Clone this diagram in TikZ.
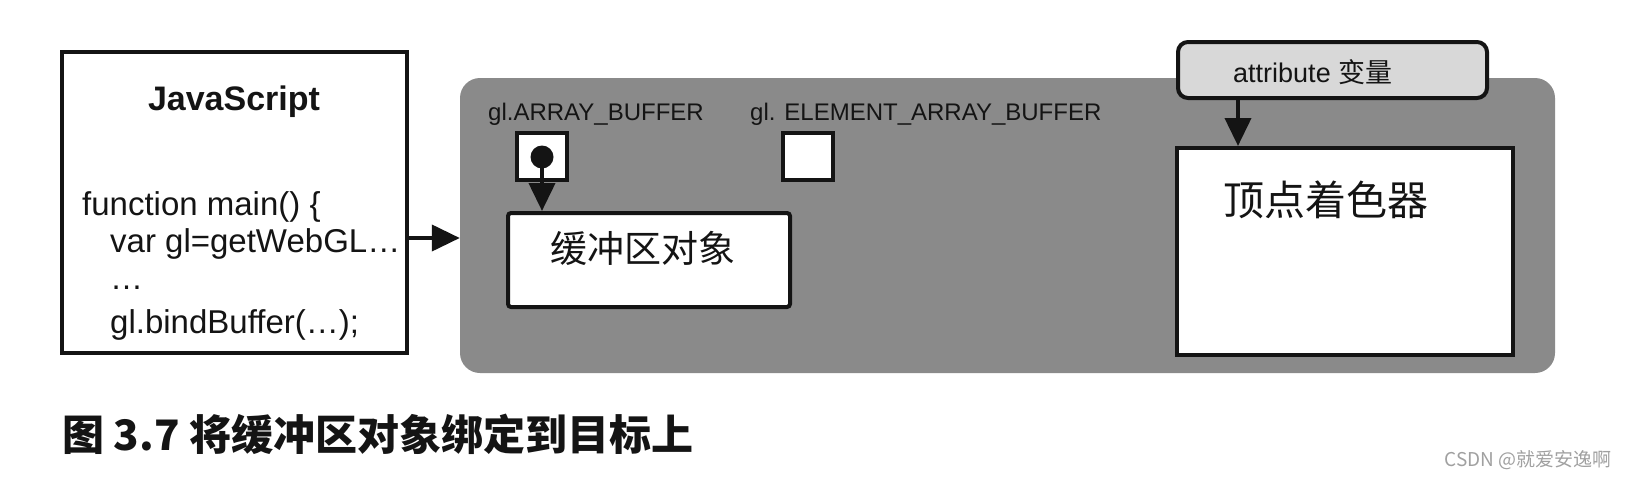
\documentclass[tikz,border=0pt]{standalone}
\usepackage{fontspec}
\setmainfont{Liberation Sans}
\newfontfamily\cjk{Noto Sans CJK SC}
\usetikzlibrary{arrows.meta,calc}
\definecolor{panelgray}{RGB}{138,138,138}
\definecolor{attrgray}{RGB}{216,216,216}
\definecolor{ink}{RGB}{20,20,20}
\definecolor{wmgray}{RGB}{160,160,160}
\begin{document}
\begin{tikzpicture}[x=1pt,y=-1pt,
  box/.style={draw=ink,line width=4pt,fill=white,inner sep=0pt},
  arr/.style={draw=ink,line width=4pt,-{Triangle[length=28pt,width=26pt]}},
  txt/.style={inner sep=0pt,text=ink},
  code/.style={txt,anchor=base west,font=\fontsize{33}{39}\selectfont},
  buflabel/.style={txt,anchor=base west,font=\fontsize{24}{28}\selectfont}]
\useasboundingbox (0,0) rectangle (1628,479);
% panel
\node[fill=panelgray,rounded corners=20pt,minimum width=1095pt,minimum height=295pt,inner sep=0pt] (gray) at (1007.5,225.5) {};
% JavaScript box
\node[box,minimum width=345pt,minimum height=301pt] (js) at (234.5,202.5) {};
\node[txt,anchor=base,font=\fontsize{34}{40}\selectfont\bfseries] (jstitle) at (234,110) {JavaScript};
\node[code] (c1) at (82,215) {function main() \{};
\node[code] (c2) at (110,252) {var gl=getWebGL…};
\node[code] (c3) at (110,289) {…};
\node[code] (c4) at (110,333) {gl.bindBuffer(…);};
% buffer targets
\node[buflabel] (lab1) at (488,120) {gl.ARRAY\_BUFFER};
\node[buflabel] (lab2) at (750,120) {gl. ELEMENT\_ARRAY\_BUFFER};
\node[box,minimum width=50pt,minimum height=47pt] (small1) at (542,156.5) {};
\node[box,minimum width=50pt,minimum height=47pt] (small2) at (808,156.5) {};
% buffer object
\node[box,rounded corners=3pt,minimum width=282pt,minimum height=94pt] (buf) at (649,260) {};
\node[txt,font=\cjk\fontsize{37}{44}\selectfont] (buftext) at (643,248) {缓冲区对象};
% attribute variable
\node[box,fill=attrgray,rounded corners=10pt,minimum width=309pt,minimum height=56pt] (attr) at (1332.5,70) {};
\node[txt,anchor=base west,font=\fontsize{27}{32}\selectfont] (attrtext) at (1233,82) {attribute {\cjk 变量}};
% vertex shader
\node[box,minimum width=336pt,minimum height=207pt] (shader) at (1345,251.5) {};
\node[txt,font=\cjk\fontsize{41}{48}\selectfont] (shadertext) at (1326,200) {顶点着色器};
% pin and arrows
\node[circle,fill=ink,minimum size=23pt,inner sep=0pt] (pin) at (542,157) {};
\draw[arr] (pin.center) -- (buf.north -| pin.center);
\coordinate (jsy) at (0,238);
\draw[arr] (js.east |- jsy) -- (gray.west |- jsy);
\coordinate (ax) at (1238,0);
\draw[arr] (attr.south -| ax) -- (shader.north -| ax);
% caption and watermark
\node[txt,anchor=west,font=\cjk\bfseries\fontsize{42}{50}\selectfont] (caption) at (62,434) {图 3.7 将缓冲区对象绑定到目标上};
\node[inner sep=0pt,anchor=east,text=wmgray,font=\cjk\fontsize{19}{23}\selectfont] (wm) at (1612,460) {CSDN @就爱安逸啊};
\end{tikzpicture}
\end{document}
